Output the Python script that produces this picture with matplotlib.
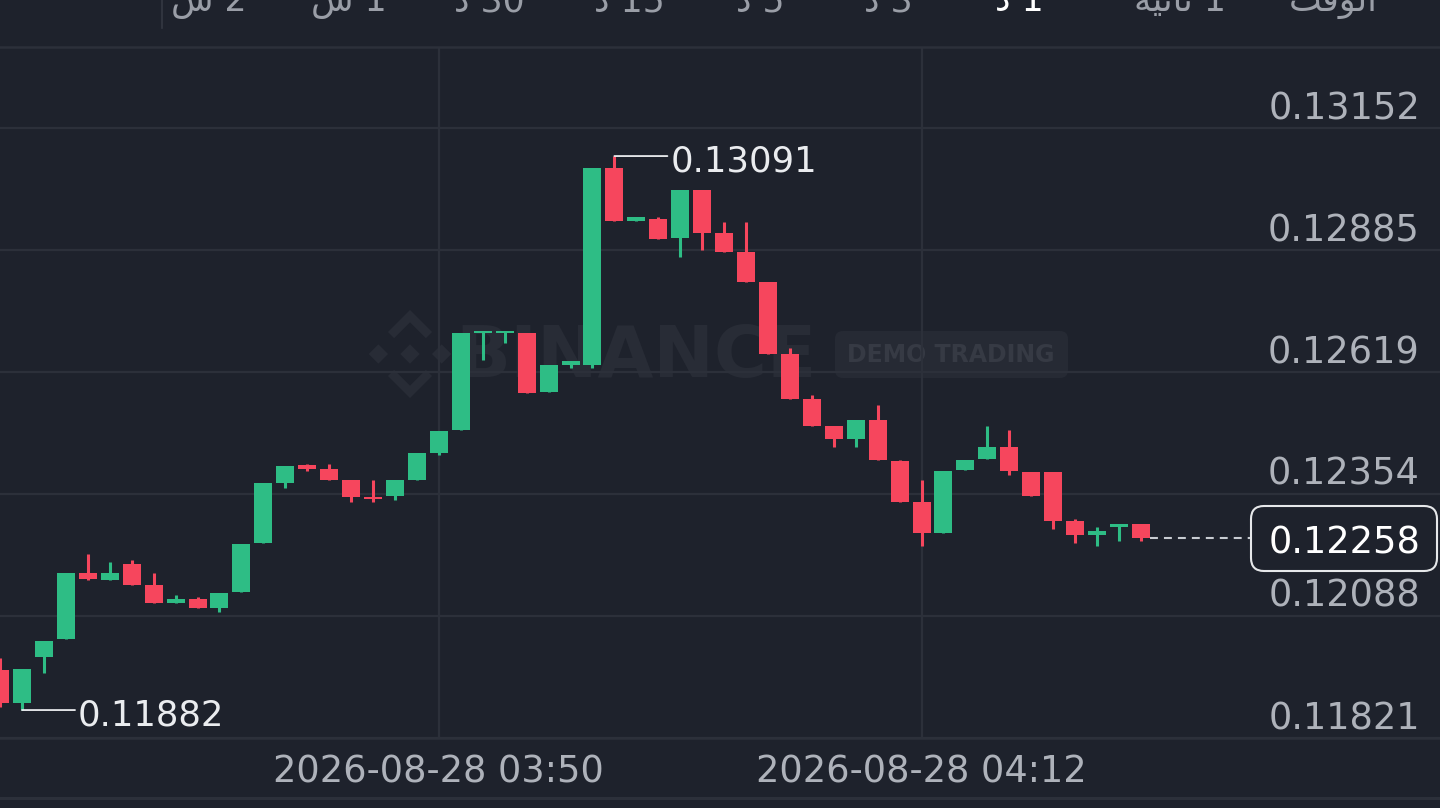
import matplotlib
matplotlib.use('Agg')
import matplotlib.pyplot as plt
from matplotlib.patches import Polygon, FancyBboxPatch
from matplotlib.transforms import Affine2D
from matplotlib.lines import Line2D
import numpy as np
import pandas as pd

plt.rcParams['font.family'] = ['DejaVu Sans']

## DADES: espelmes d'1 minut
times = pd.date_range('2026-08-28 03:30', periods=53, freq='min')
opens = [0.11969, 0.11897, 0.11997, 0.12036, 0.12182, 0.12165, 0.12200, 0.12154, 0.12115, 0.12124,
         0.12104, 0.12139, 0.12246, 0.12377, 0.12416, 0.12407, 0.12385, 0.12348, 0.12350, 0.12385,
         0.12442, 0.12494, 0.12704, 0.12704, 0.12704, 0.12577, 0.12636, 0.12636, 0.13064, 0.12950,
         0.12953, 0.12913, 0.13016, 0.12922, 0.12881, 0.12817, 0.12660, 0.12560, 0.12501, 0.12473,
         0.12516, 0.12425, 0.12335, 0.12268, 0.12405, 0.12429, 0.12457, 0.12401, 0.12401, 0.12294,
         0.12265, 0.12281, 0.12289]
highs = [0.11995, 0.11971, 0.12032, 0.12182, 0.12222, 0.12206, 0.12209, 0.12180, 0.12134, 0.12128,
         0.12137, 0.12244, 0.12377, 0.12414, 0.12420, 0.12418, 0.12385, 0.12383, 0.12383, 0.12442,
         0.12492, 0.12704, 0.12710, 0.12710, 0.12704, 0.12634, 0.12643, 0.13064, 0.13091, 0.12959,
         0.12957, 0.13016, 0.13018, 0.12948, 0.12948, 0.12817, 0.12673, 0.12569, 0.12501, 0.12516,
         0.12547, 0.12427, 0.12383, 0.12403, 0.12427, 0.12501, 0.12494, 0.12401, 0.12401, 0.12298,
         0.12281, 0.12289, 0.12289]
lows = [0.11888, 0.11882, 0.11962, 0.12036, 0.12165, 0.12165, 0.12154, 0.12115, 0.12115, 0.12104,
        0.12097, 0.12139, 0.12246, 0.12366, 0.12403, 0.12385, 0.12337, 0.12337, 0.12340, 0.12385,
        0.12438, 0.12494, 0.12645, 0.12684, 0.12575, 0.12577, 0.12628, 0.12628, 0.12950, 0.12950,
        0.12911, 0.12870, 0.12887, 0.12881, 0.12817, 0.12660, 0.12560, 0.12501, 0.12457, 0.12457,
        0.12427, 0.12335, 0.12239, 0.12268, 0.12405, 0.12429, 0.12396, 0.12350, 0.12278, 0.12246,
        0.12241, 0.12250, 0.12250]
closes = [0.11897, 0.11971, 0.12032, 0.12182, 0.12167, 0.12182, 0.12154, 0.12115, 0.12124, 0.12104,
          0.12137, 0.12244, 0.12377, 0.12414, 0.12407, 0.12385, 0.12348, 0.12342, 0.12383, 0.12442,
          0.12492, 0.12704, 0.12710, 0.12710, 0.12575, 0.12634, 0.12643, 0.13064, 0.12950, 0.12959,
          0.12911, 0.13016, 0.12922, 0.12881, 0.12817, 0.12660, 0.12560, 0.12501, 0.12473, 0.12516,
          0.12427, 0.12335, 0.12268, 0.12403, 0.12427, 0.12457, 0.12403, 0.12350, 0.12294, 0.12265,
          0.12272, 0.12289, 0.12258]

price_ticks = [0.11821, 0.12088, 0.12354, 0.12619, 0.12885, 0.13152]
time_ticks = ['2026-08-28 03:50', '2026-08-28 04:12']
last_price = 0.12258

# barra superior (text en ordre visual)
toolbar_labels = ['س 2', 'س 1', 'د 30', 'د 15', 'د 5', 'د 3', 'د 1', 'ﺔﻴﻧﺎﺛ 1', 'ﺖﻗﻮﻟﺍ']
toolbar_x = [209, 349, 489, 629, 760, 888, 1019, 1180, 1333]
toolbar_sel = 6

#---------------------------------------------------------------------------------------------------
W, H = 1440, 808
BG = '#1e222c'
GRID = '#2c303a'
GREEN = '#2ebd85'
RED = '#f6465d'
LABEL = '#aeb2ba'
WHITE = '#eaecef'
WM = '#282c36'

fig = plt.figure(figsize=(W / 100, H / 100), dpi=100, facecolor=BG)
px = Affine2D().scale(1, -1).translate(0, H)   # coordenades en pixels des de dalt a l'esquerra

ax = fig.add_axes([0, 70 / H, 1, 691 / H])
ax.set_facecolor('none')

o = np.array(opens); c = np.array(closes); h = np.array(highs); l = np.array(lows)
x = np.arange(len(o))
up = c >= o
cols = np.where(up, GREEN, RED)
body = np.maximum(np.abs(c - o), 0.00006)
ax.vlines(x, l, h, colors=cols, lw=2.2, zorder=2)
ax.bar(x, body, bottom=np.minimum(o, c), width=0.82, color=cols, zorder=3, linewidth=0)

ax.set_xlim(-0.003, 65.63)
ax.set_ylim(0.11821, 0.13329)

# graella
tpos = [list(times.strftime('%Y-%m-%d %H:%M')).index(t) for t in time_ticks]
ax.set_xticks(tpos)
ax.set_xticklabels(time_ticks)
ax.set_yticks(price_ticks)
ax.tick_params(axis='x', length=0, pad=11.5, labelsize=26.5, labelcolor=LABEL)
ax.tick_params(axis='y', length=0, labelleft=False)
ax.grid(color=GRID, lw=1.6, zorder=0)
for s in ['left', 'right']:
    ax.spines[s].set_visible(False)
for s in ['top', 'bottom']:
    ax.spines[s].set_color(GRID)
    ax.spines[s].set_linewidth(1.8)

for p in price_ticks:
    ax.annotate('%.5f' % p, xy=(1, p), xycoords=('axes fraction', 'data'),
                xytext=(-20, 9), textcoords='offset pixels', ha='right', va='baseline',
                fontsize=26.5, color=LABEL)

# maxim i minim
ih, il = int(np.argmax(h)), int(np.argmin(l))
for i, v in [(ih, h[ih]), (il, l[il])]:
    ax.annotate('', xy=(i, v), xytext=(53, 0), textcoords='offset pixels',
                arrowprops=dict(arrowstyle='-', color=WHITE, lw=1.3, shrinkA=0, shrinkB=0))
    ax.annotate('%.5f' % v, xy=(i, v), xytext=(56, -2), textcoords='offset pixels',
                ha='left', va='center_baseline', fontsize=25.5, color=WHITE)

# preu actual
ax.hlines(last_price, len(o) - 1 + 0.42, (1250 - 0.06) / 21.94, colors='#c8ccd2', lw=1.5,
          linestyles=(0, (3.8, 2.9)), zorder=3)
fig.add_artist(FancyBboxPatch((1251, 506), 186, 65, boxstyle='round,pad=0,rounding_size=13',
                              transform=px, fc=BG, ec='#e6e8ea', lw=1.5, zorder=5))
fig.text(1345, 539, '%.5f' % last_price, transform=px, ha='center', va='center_baseline',
         fontsize=26.5, color='#ffffff', zorder=6)

# marca d'aigua
def diamond(cx, cy, r):
    return [(cx, cy - r), (cx + r, cy), (cx, cy + r), (cx - r, cy)]

lx, ly, lr = 410, 354, 44
shapes = [diamond(0, 0, 0.22), diamond(-0.72, 0, 0.22), diamond(0.72, 0, 0.22),
          [(-0.5, -0.5), (0, -1), (0.5, -0.5), (0.36, -0.36), (0, -0.72), (-0.36, -0.36)],
          [(-0.5, 0.5), (0, 1), (0.5, 0.5), (0.36, 0.36), (0, 0.72), (-0.36, 0.36)]]
for sh in shapes:
    pts = [(lx + lr * a, ly + lr * b) for a, b in sh]
    fig.add_artist(Polygon(pts, closed=True, transform=px, fc=WM, ec='none', zorder=-1))
fig.text(455, 357, 'BINANCE', transform=px, ha='left', va='center', fontsize=52,
         fontweight='bold', color=WM, zorder=-1)
fig.add_artist(FancyBboxPatch((835, 331), 233, 47, boxstyle='round,pad=0,rounding_size=8',
                              transform=px, fc='#262a34', ec='none', zorder=-1))
fig.text(951, 355, 'DEMO TRADING', transform=px, ha='center', va='center', fontsize=17,
         fontweight='bold', color='#363a44', zorder=-1)

# barra superior (retallada a dalt com a la captura)
for k, (t, xx) in enumerate(zip(toolbar_labels, toolbar_x)):
    fig.text(xx, 11, t, transform=px, ha='center', va='baseline', fontsize=25,
             color='#ffffff' if k == toolbar_sel else '#9a9ea7')
fig.add_artist(Line2D([162, 162], [0, 28], transform=px, color='#343842', lw=1.2))
fig.add_artist(Line2D([0, W], [798, 798], transform=px, color=GRID, lw=2.2))

plt.savefig('out.png', dpi=100, facecolor=BG)
